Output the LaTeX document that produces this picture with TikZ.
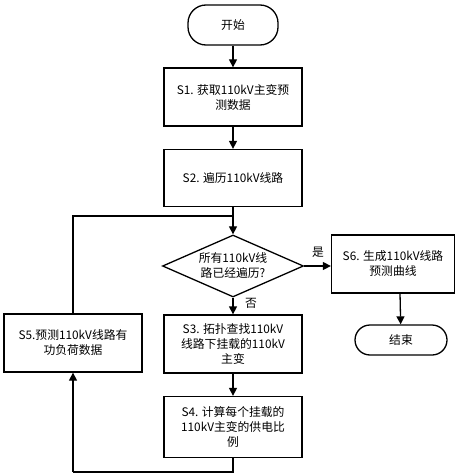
\documentclass[tikz,border=0pt]{standalone}
\usepackage{fontspec}
\setmainfont{Noto Sans CJK SC}
\usetikzlibrary{arrows.meta,shapes.geometric}
\begin{document}
\begin{tikzpicture}[x=1pt,y=-1pt,
  every node/.style={font=\fontsize{11.8}{15}\selectfont},
  box/.style={draw,line width=1.3pt,minimum width=138pt,minimum height=58pt,align=center,inner sep=2pt},
  term/.style={draw,line width=1.3pt,rounded corners=18pt,minimum width=90pt,minimum height=40pt},
  dec/.style={draw,line width=1.3pt,diamond,aspect=2.27,minimum width=141pt,minimum height=62pt,inner sep=0pt,align=center},
  conn/.style={line width=1.3pt,-{Triangle[length=8pt,width=8pt]}},
  line/.style={line width=1.3pt}]
\useasboundingbox (0,0) rectangle (474,476);
\node[term] (start) at (233,25) {开始};
\node[box] (s1) at (233,97) {S1. 获取110kV主变预\\测数据};
\node[box,minimum height=57pt] (s2) at (233,178) {S2. 遍历110kV线路};
\node[dec] (d) at (233,266) {所有110kV线\\路已经遍历?};
\node[box] (s3) at (233,344) {S3. 拓扑查找110kV\\线路下挂载的110kV\\主变};
\node[box,minimum height=61pt] (s4) at (233,427) {S4. 计算每个挂载的\\110kV主变的供电比\\例};
\node[box] (s5) at (73,343) {S5.预测110kV线路有\\功负荷数据};
\node[box,minimum width=123pt] (s6) at (393,264) {S6. 生成110kV线路\\预测曲线};
\node[term,rounded corners=15pt,minimum width=92pt,minimum height=30pt] (end) at (401,340) {结束};
\coordinate (j) at (233,216);
\coordinate (bl) at (233,472);
\coordinate (br) at (73,472);
\coordinate (tl) at (73,216);
\coordinate (s6b) at (400,293);
\draw[conn] (start) -- (s1);
\draw[conn] (s1) -- (s2);
\draw[conn] (s2) -- (d);
\draw[conn] (d) -- (s3);
\draw[conn] (s3) -- (s4);
\draw[conn] (d.east) -- (d.east -| s6.west);
\draw[conn] (s6b) -- (end);
\draw[line] (s4.south) -- (bl) -- (br);
\draw[conn] (br) -- (s5.south);
\draw[line] (s5.north) -- (tl) -- (j);
\node (yes) at (318,252) {是};
\node (no) at (251,303) {否};
\end{tikzpicture}
\end{document}
